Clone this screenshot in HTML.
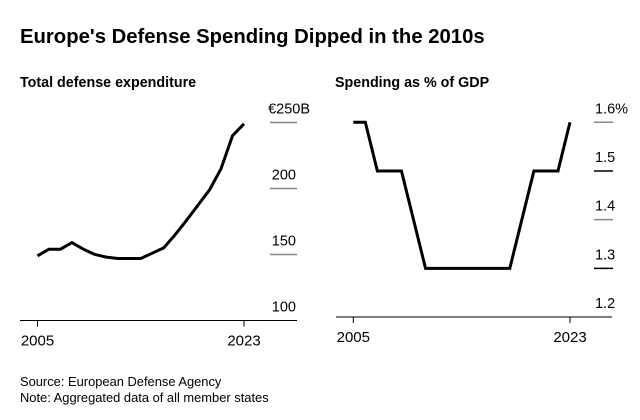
<!DOCTYPE html>
<html><head><meta charset="utf-8"><style>
body{margin:0;background:#fff;font-family:"Liberation Sans",sans-serif;}
svg text{font-family:"Liberation Sans",sans-serif;}
</style></head><body>
<svg width="640" height="415" viewBox="0 0 640 415">
<text x="20" y="43" font-size="20.3" font-weight="bold" fill="#000">Europe's Defense Spending Dipped in the 2010s</text>
<text x="20" y="87" font-size="14.3" font-weight="bold">Total defense expenditure</text>
<text x="335" y="87" font-size="14.3" font-weight="bold">Spending as % of GDP</text>
<g id="left"></g>
<g id="right"></g>
<text x="20" y="386" font-size="12.9">Source: European Defense Agency</text>
<text x="20" y="402" font-size="12.9">Note: Aggregated data of all member states</text>
</svg>
<script>
const years=[2005,2006,2007,2008,2009,2010,2011,2012,2013,2014,2015,2016,2017,2018,2019,2020,2021,2022,2023];
const spending=[149,154,154,159,154,150,148,147,147,147,151,155,165,176,187.5,199,215,240,249];
const gdpPct=[1.6,1.6,1.5,1.5,1.5,1.4,1.3,1.3,1.3,1.3,1.3,1.3,1.3,1.3,1.4,1.5,1.5,1.5,1.6];
const leftTicks=[100,150,200,250];
const leftTickLabels=["100","150","200","€250B"];
const leftTickSuffixPad=[0,0,0,14];
const rightTicks=[1.2,1.3,1.4,1.5,1.6];
const rightTickLabels=["1.2","1.3","1.4","1.5","1.6%"];
const xLabels=[2005,2023];
const NS="http://www.w3.org/2000/svg";
function mk(p,t,a){const e=document.createElementNS(NS,t);for(const k in a)e.setAttribute(k,a[k]);p.appendChild(e);return e;}
function panel(g,o){
 const x=v=>o.x0+(v-2005)/(2023-2005)*(o.x1-o.x0);
 const y=v=>o.yb+(v-o.vmin)/(o.vmax-o.vmin)*(o.yt-o.yb);
 o.ticks.forEach((t,i)=>{
  if(i>0){const l=mk(g,'line',{x1:o.tx0,x2:o.tx1,y1:y(t),y2:y(t),stroke:o.tickColors[i],'stroke-width':1.5});
  
  }
  const tx=mk(g,'text',{x:o.lx+(o.pad?o.pad[i]:0),y:y(t)-9,'font-size':14.5,'text-anchor':o.anchor});
  tx.textContent=o.labels[i];
  
  
 });
 const b=mk(g,'line',{x1:o.bx0,x2:o.bx1,y1:o.yb,y2:o.yb,stroke:'#000','stroke-width':1});
 
 
 xLabels.forEach(v=>{
  const t=mk(g,'line',{x1:x(v),x2:x(v),y1:o.yb,y2:o.yb+6,stroke:'#000'});
  
  
  const tx=mk(g,'text',{x:x(v),y:o.yb+25,'font-size':15,'text-anchor':'middle'});
  tx.textContent=v;
  
  
 });
 const pts=years.map((yr,i)=>x(yr)+','+y(o.data[i])).join(' ');
 const pl=mk(g,'polyline',{points:pts,fill:'none',stroke:'#000','stroke-width':3,'stroke-linejoin':'miter'});
 
 
}
panel(document.getElementById('left'),{x0:37.5,x1:244,yb:320.5,yt:122.5,vmin:100,vmax:250,ticks:leftTicks,labels:leftTickLabels,pad:leftTickSuffixPad,data:spending,tx0:270,tx1:297,lx:296,anchor:'end',bx0:20,bx1:297,tickColors:['#888','#888','#888','#888'],name:'spending-line'});
panel(document.getElementById('right'),{x0:353.3,x1:570,yb:317,yt:122.3,vmin:1.2,vmax:1.6,ticks:rightTicks,labels:rightTickLabels,data:gdpPct,tx0:594,tx1:613,lx:595,anchor:'start',bx0:336,bx1:612,tickColors:['#000','#000','#888','#000','#888'],name:'gdp-share-line'});
</script>
</body></html>
